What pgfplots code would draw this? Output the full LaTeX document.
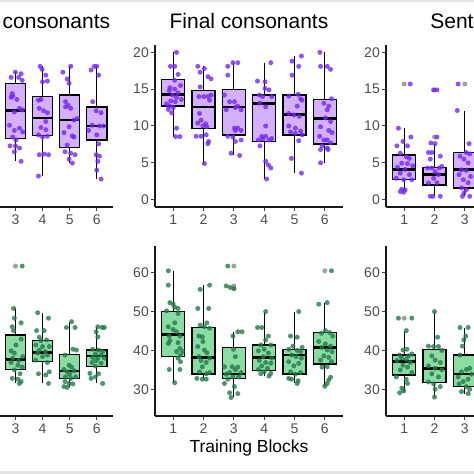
\documentclass[border=0pt]{standalone}
\usepackage{pgfplots}
\pgfplotsset{compat=1.18}
\usepgfplotslibrary{statistics}
\usepackage{fontspec}
\setmainfont{Liberation Sans}

\definecolor{ptpurple}{RGB}{116,40,240}
\definecolor{boxpurple}{RGB}{212,176,250}
\definecolor{ptgreen}{RGB}{36,120,76}
\definecolor{boxgreen}{RGB}{138,220,163}
\definecolor{ticktext}{RGB}{77,77,77}
\definecolor{outgray}{RGB}{150,150,150}
\definecolor{stripgray}{RGB}{228,228,228}

\pgfplotsset{
  panelbase/.style={
    scale only axis, axis lines=left,
    axis line style={-, line width=1.5pt, black!90},
    xmin=0.4, xmax=6.6, xtick={1,2,3,4,5,6},
    tick align=outside, major tick length=4pt,
    tick style={line width=1pt, black!75},
    tick label style={font=\fontsize{14}{14}\selectfont, text=ticktext},
    /pgf/number format/assume math mode=true,
    xticklabel style={inner sep=1pt, yshift=-3pt},
    yticklabel style={inner sep=1pt, xshift=-1pt},
    title style={at={(0.5,1)}, anchor=base, yshift=10.5pt,
      font=\fontsize{21}{21}\selectfont},
    boxplot/draw direction=y,
  },
  toprow/.style={panelbase, height=162pt, ymin=-1, ymax=21, ytick={0,5,10,15,20}},
  botrow/.style={panelbase, height=170pt, ymin=23.13, ymax=66.87, ytick={30,40,50,60}},
  pbox/.style={draw=black, fill=boxpurple, line width=1.3pt, solid},
  gbox/.style={draw=black, fill=boxgreen, line width=1.3pt, solid},
  ppts/.style={only marks, mark=*, mark size=2.5pt,
    mark options={draw=ptpurple, fill=ptpurple, line width=0.2pt,
      fill opacity=0.8, draw opacity=0}},
  gpts/.style={only marks, mark=*, mark size=2.5pt,
    mark options={draw=ptgreen, fill=ptgreen, line width=0.2pt,
      fill opacity=0.8, draw opacity=0}},
  outl/.style={only marks, mark=*, mark size=2.5pt,
    mark options={draw=outgray, fill=outgray, line width=0.2pt,
      fill opacity=0.9, draw opacity=0}},
}

% box: style, position, lower whisker, Q1, median, Q3, upper whisker
\newcommand{\bx}[7]{%
  \addplot[#1, boxplot prepared={draw direction=y, draw position=#2,
    lower whisker=#3, lower quartile=#4, median=#5, upper quartile=#6,
    upper whisker=#7, box extend=0.75, whisker extend=0,
    every median/.style={line width=2.7pt}}] coordinates {};}

\begin{document}
\begin{tikzpicture}
\useasboundingbox (0pt,0pt) rectangle (474pt,474pt);
\clip (0pt,0pt) rectangle (474pt,474pt);
\fill[white] (0pt,0pt) rectangle (474pt,474pt);

% ---------------- Initial consonants ----------------
\begin{axis}[toprow, width=168pt, at={(-55pt,267pt)}, anchor=south west,
  title={Initial consonants}]
\bx{pbox}{3}{5.2}{8.33}{12.07}{15.77}{17.3}
\bx{pbox}{4}{3.2}{8.7}{11.1}{14.05}{18.1}
\bx{pbox}{5}{4.95}{7.07}{10.8}{14.2}{18.1}
\bx{pbox}{6}{2.8}{8.1}{10.0}{12.6}{18.1}
\addplot[ppts] coordinates {
 (3.00,17.3) (3.21,17.1) (2.84,16.6) (3.12,16.6) (3.25,16.2) (2.88,14.4)
 (2.90,14.05) (3.05,13.6) (2.84,13.9) (3.15,12.4) (3.25,12.2) (2.96,11.9)
 (2.78,10.1) (3.15,9.7) (2.96,9.4) (3.27,9.2) (2.90,8.5) (3.02,8.1)
 (2.80,7.3) (3.00,7.3) (3.15,7.0) (2.96,6.5) (3.21,5.2)
 (3.91,18.1) (3.98,17.7) (4.12,16.9) (4.18,16.1) (4.00,16.0) (3.85,13.5)
 (3.94,13.6) (3.88,12.4) (4.04,12.07) (4.18,11.8) (4.12,10.6) (3.94,9.8)
 (4.12,9.5) (3.85,8.8) (4.00,8.5) (4.18,8.6) (3.88,6.1) (4.06,6.2)
 (4.22,6.1) (3.85,3.2)
 (4.75,17.3) (5.04,18.1) (4.91,16.4) (4.98,15.8) (4.85,13.3) (4.95,12.8)
 (4.85,12.6) (5.04,12.4) (5.28,11.0) (5.16,10.8) (4.98,9.9) (4.79,9.1)
 (5.10,8.65) (5.16,8.5) (4.91,7.4) (4.83,6.5) (5.04,6.3) (5.20,6.1)
 (4.98,5.5) (5.10,4.95)
 (5.79,17.6) (5.91,18.1) (6.00,18.1) (6.07,16.9) (5.85,13.3) (5.98,12.07)
 (6.16,11.8) (5.83,10.1) (6.10,10.0) (6.25,10.0) (6.00,8.8) (5.70,9.4)
 (6.07,7.57) (5.98,6.1) (6.10,5.9) (6.04,5.2) (6.00,4.0) (6.16,2.8)
};
\end{axis}

% ---------------- Final consonants ----------------
\begin{axis}[toprow, width=188pt, at={(155pt,267pt)}, anchor=south west,
  title={Final consonants}]
\bx{pbox}{1}{8.56}{12.7}{14.23}{16.3}{20.0}
\bx{pbox}{2}{4.9}{9.68}{12.6}{14.86}{18.1}
\bx{pbox}{3}{6.0}{8.78}{12.6}{14.95}{18.6}
\bx{pbox}{4}{2.8}{7.9}{13.1}{14.2}{18.6}
\bx{pbox}{5}{3.6}{8.78}{11.6}{14.2}{19.5}
\bx{pbox}{6}{5.0}{7.57}{11.04}{13.6}{20.0}
\addplot[ppts] coordinates {
 (1.11,20.0) (0.91,18.1) (1.05,18.1) (1.16,17.0) (1.05,16.2) (1.24,15.5)
 (0.89,15.2) (1.05,15.0) (0.87,14.8) (1.16,14.5) (0.98,14.2) (1.11,13.9)
 (1.27,13.6) (0.92,13.4) (1.07,13.3) (0.78,13.0) (0.87,12.7) (1.00,12.5)
 (0.84,12.25) (0.95,11.8) (1.11,9.7) (1.08,8.56) (1.22,8.56)
 (1.81,18.1) (2.03,17.8) (1.89,17.3) (2.15,16.7) (2.25,16.4) (1.89,15.3)
 (1.85,14.0) (2.01,14.0) (2.15,14.0) (2.25,14.2) (2.20,13.5) (1.87,11.7)
 (1.92,10.8) (1.81,10.4) (2.07,10.3) (1.98,10.0) (2.11,9.9) (1.76,8.6)
 (1.92,8.6) (2.09,8.8) (2.17,7.9) (2.14,7.6) (2.03,4.9)
 (2.80,18.1) (2.97,18.6) (3.13,18.6) (2.80,16.9) (2.69,14.2) (2.86,13.3)
 (3.02,13.3) (3.13,12.7) (3.05,12.5) (2.75,12.2) (3.24,12.2) (3.02,9.7)
 (3.13,9.7) (3.05,9.4) (3.24,9.4) (2.80,8.6) (2.97,8.5) (3.05,7.9)
 (3.24,8.1) (2.91,6.3) (3.19,6.0)
 (4.22,18.6) (3.78,16.1) (4.03,16.0) (4.03,15.1) (4.16,14.9) (3.84,14.2)
 (3.95,14.0) (4.25,14.0) (3.86,13.1) (4.05,12.6) (4.05,10.0) (3.92,8.6)
 (4.05,8.6) (4.25,8.3) (3.81,8.1) (4.16,8.1) (3.95,8.2) (3.86,7.3)
 (4.05,5.2) (4.14,4.7) (4.22,4.3) (4.08,2.8)
 (4.92,18.8) (5.23,19.5) (5.14,18.1) (4.92,16.9) (4.81,14.05) (5.12,14.3)
 (5.20,13.7) (5.25,13.5) (5.09,12.7) (4.81,11.7) (4.98,11.5) (5.16,11.3)
 (4.81,10.0) (5.03,9.7) (5.20,9.3) (4.87,9.2) (5.03,9.0) (5.25,8.8)
 (5.14,8.0) (4.90,5.6) (5.23,3.6)
 (5.84,20.0) (5.86,18.1) (6.08,18.1) (6.19,17.7) (6.22,13.7) (5.97,13.1)
 (6.13,12.7) (6.08,12.2) (6.02,11.1) (6.19,10.6) (5.86,9.9) (6.13,9.4)
 (6.24,9.1) (5.83,8.6) (5.97,8.1) (6.08,8.1) (6.19,7.7) (5.91,7.3)
 (6.08,7.0) (5.86,6.8) (6.11,6.8) (5.86,5.0)
};
\end{axis}

% ---------------- Sentences ----------------
\begin{axis}[toprow, width=188pt, at={(386pt,267pt)}, anchor=south west,
  title={Sentences}]
\bx{pbox}{1}{1.0}{2.7}{4.05}{6.08}{9.7}
\bx{pbox}{2}{0.45}{2.0}{3.4}{4.4}{7.6}
\bx{pbox}{3}{0.45}{1.58}{4.05}{6.4}{12.1}
\addplot[outl] coordinates {(1,15.7) (2,14.9) (2,8.5) (3,15.7)};
\addplot[ppts] coordinates {
 (1.20,15.7) (0.81,9.7) (1.22,8.5) (0.96,7.9) (0.76,7.3) (1.11,7.3)
 (0.87,6.3) (1.07,5.8) (1.17,5.6) (0.92,4.95) (1.11,4.9) (0.78,4.4)
 (1.28,4.6) (1.03,4.1) (0.87,3.6) (1.17,3.4) (0.74,2.9) (0.98,2.7)
 (1.25,2.7) (0.92,1.4) (1.03,1.3) (0.87,1.1) (0.98,1.0)
 (1.97,14.9) (2.08,14.9) (2.08,8.5) (1.88,7.7) (2.02,7.6) (1.80,6.4)
 (1.91,6.4) (2.19,5.9) (1.86,5.5) (2.24,4.5) (1.77,4.3) (1.91,4.3)
 (2.16,4.3) (2.02,3.8) (2.13,3.4) (1.97,2.9) (1.80,2.25) (2.08,2.3)
 (1.86,0.45) (1.95,0.45) (2.19,0.45)
 (2.78,15.7) (2.75,12.1) (3.14,7.6) (3.05,6.4) (3.16,6.2) (2.84,5.9)
 (2.97,5.5) (3.11,5.0) (2.89,4.05) (3.05,3.96) (2.81,3.4) (3.19,3.15)
 (2.95,2.7) (3.11,2.3) (2.89,1.6) (3.05,1.35) (2.97,0.9) (2.92,0.45)
 (3.16,0.45)
};
\end{axis}

% ---------------- second row, left ----------------
\begin{axis}[botrow, width=168pt, at={(-55pt,58pt)}, anchor=south west]
\bx{gbox}{3}{31.5}{35.1}{37.7}{44.0}{50.8}
\bx{gbox}{4}{31.5}{37.1}{39.4}{42.5}{49.7}
\bx{gbox}{5}{30.5}{32.8}{34.7}{39.0}{47.4}
\bx{gbox}{6}{31.5}{35.8}{38.6}{40.1}{46.1}
\addplot[outl] coordinates {(3,61.7)};
\addplot[gpts] coordinates {
 (3.25,61.7) (2.93,50.8) (2.96,48.3) (3.21,47.1) (2.88,46.1) (2.93,45.1)
 (3.21,42.9) (3.02,41.4) (2.84,39.9) (2.96,39.3) (2.90,38.0) (3.12,37.4)
 (3.27,38.4) (2.84,36.9) (3.09,36.2) (3.25,35.7) (2.96,35.0) (3.17,34.0)
 (2.88,32.8) (3.09,32.6) (3.21,32.0) (3.15,31.5)
 (3.82,49.7) (4.22,48.3) (3.78,45.1) (4.06,45.1) (3.88,43.4) (3.94,42.5)
 (4.15,42.7) (3.75,41.4) (4.00,41.0) (4.25,41.0) (3.88,40.1) (4.10,39.7)
 (3.82,39.3) (4.18,38.8) (4.00,38.4) (3.75,37.5) (4.18,36.9) (3.85,34.0)
 (4.12,33.7) (4.25,34.5) (4.22,31.5)
 (5.07,47.4) (4.88,45.9) (5.20,45.9) (5.12,40.3) (5.25,40.1) (4.83,38.8)
 (4.98,36.2) (5.07,35.7) (4.79,35.1) (4.91,34.5) (5.16,34.8) (5.00,33.9)
 (4.85,33.2) (5.04,32.8) (5.22,33.2) (4.83,32.0) (4.98,31.5) (5.12,31.4)
 (4.91,30.5) (4.79,30.7)
 (6.04,46.1) (6.20,45.9) (6.28,45.9) (5.98,44.8) (6.04,43.5) (5.85,40.3)
 (6.07,40.1) (6.22,39.7) (5.95,39.1) (6.16,38.8) (5.85,38.2) (6.04,38.0)
 (6.28,38.0) (5.98,37.4) (5.83,36.9) (6.16,36.7) (5.95,36.0) (5.75,34.1)
 (6.07,34.0) (5.95,33.2) (5.79,32.8) (6.22,31.5)
};
\end{axis}

% ---------------- second row, middle ----------------
\begin{axis}[botrow, width=188pt, at={(155pt,58pt)}, anchor=south west,
  xlabel={Training Blocks},
  xlabel style={at={(axis description cs:0.5,0)}, anchor=base,
    yshift=-36.7pt, font=\fontsize{17.5}{17.5}\selectfont}]
\bx{gbox}{1}{31.7}{38.4}{44.1}{50.0}{60.5}
\bx{gbox}{2}{32.6}{33.9}{38.2}{45.9}{56.8}
\bx{gbox}{3}{27.9}{32.8}{33.9}{40.8}{44.8}
\bx{gbox}{4}{33.4}{34.8}{38.2}{41.4}{50.0}
\bx{gbox}{5}{31.5}{33.9}{38.8}{40.3}{50.0}
\bx{gbox}{6}{30.8}{36.5}{40.7}{44.6}{52.3}
\addplot[outl] coordinates {(3,61.7) (3,56.6) (3,56.0) (6,60.5)};
\addplot[gpts] coordinates {
 (0.84,60.5) (0.84,56.8) (0.89,52.3) (1.00,51.9) (1.05,51.1) (1.16,50.8)
 (0.78,50.2) (1.16,49.5) (1.05,47.1) (0.84,46.1) (1.00,45.4) (1.11,44.8)
 (0.87,43.7) (1.22,43.7) (0.89,42.5) (1.16,42.0) (0.84,41.8) (1.22,40.5)
 (1.11,39.7) (1.31,39.7) (1.24,38.8) (1.16,38.0) (1.24,37.1) (0.87,35.1)
 (1.22,35.1) (1.05,31.7)
 (1.89,55.7) (2.20,56.8) (1.81,50.8) (2.17,50.8) (2.11,47.1) (1.89,46.5)
 (2.03,46.1) (2.20,45.7) (1.85,43.7) (1.96,43.5) (1.98,42.3) (1.81,41.0)
 (2.03,40.1) (2.11,39.4) (1.85,38.4) (2.20,38.0) (1.92,37.4) (2.09,36.9)
 (1.96,35.8) (1.87,34.5) (2.09,34.0) (2.20,34.3) (1.78,32.8) (1.96,32.6)
 (2.09,32.6)
 (2.80,61.7) (2.75,56.6) (2.88,56.2) (3.00,55.9) (3.13,44.8) (3.27,44.8)
 (2.97,43.7) (2.99,40.3) (3.05,38.4) (2.69,35.8) (2.95,35.8) (3.13,35.7)
 (3.05,35.0) (2.86,34.3) (3.24,34.3) (2.75,33.9) (2.97,33.2) (3.16,33.2)
 (2.80,32.6) (2.69,31.5) (3.02,30.7) (2.86,29.1) (3.13,28.9) (2.91,27.9)
 (4.05,50.0) (3.78,45.9) (3.92,45.9) (4.14,43.7) (4.05,42.7) (4.22,41.4)
 (3.89,41.4) (4.00,40.3) (3.81,39.9) (4.14,39.3) (3.97,38.4) (4.25,38.0)
 (3.84,37.4) (4.05,36.9) (4.22,36.7) (3.92,36.0) (4.11,35.4) (3.81,35.1)
 (4.00,34.5) (4.22,34.1) (3.89,34.0) (4.16,33.4)
 (5.14,50.0) (4.87,43.7) (5.09,43.4) (4.95,41.1) (5.25,40.8) (4.81,40.3)
 (5.09,40.0) (5.20,39.7) (4.90,38.8) (5.05,38.4) (5.23,38.0) (4.81,37.1)
 (5.14,36.7) (4.98,36.0) (4.87,34.5) (5.20,34.3) (5.03,33.9) (4.81,32.8)
 (4.90,32.6) (5.12,32.2) (5.09,31.5)
 (6.22,60.5) (6.08,52.3) (5.80,51.9) (6.02,45.1) (6.16,44.6) (5.89,44.4)
 (6.26,43.7) (5.80,42.3) (6.02,41.7) (6.19,41.1) (5.91,40.8) (6.08,40.1)
 (6.24,39.7) (5.97,38.6) (6.13,38.2) (5.86,37.5) (6.22,37.1) (5.91,35.7)
 (6.08,35.8) (6.19,33.1) (6.13,32.4) (6.08,31.5) (6.00,30.8)
};
\end{axis}

% ---------------- second row, right ----------------
\begin{axis}[botrow, width=188pt, at={(386pt,58pt)}, anchor=south west]
\bx{gbox}{1}{29.1}{33.7}{37.1}{38.8}{45.1}
\bx{gbox}{2}{28.0}{31.7}{35.4}{40.3}{50.0}
\bx{gbox}{3}{28.9}{30.7}{33.9}{38.8}{45.9}
\addplot[outl] coordinates {(1,48.3)};
\addplot[gpts] coordinates {
 (0.81,48.3) (1.25,48.3) (1.07,45.1) (0.96,40.1) (1.09,40.3) (1.25,39.1)
 (0.85,38.8) (1.14,38.6) (0.92,38.0) (1.07,37.7) (0.76,37.4) (1.20,36.9)
 (0.96,36.2) (1.11,35.7) (0.87,35.0) (1.25,34.3) (0.74,33.2) (1.07,32.6)
 (1.11,31.5) (0.92,30.3) (0.85,29.1) (0.98,29.6)
 (2.00,50.0) (2.10,43.4) (1.80,41.1) (1.97,41.0) (2.13,41.0) (2.24,40.0)
 (1.91,38.6) (2.02,37.5) (2.19,36.9) (1.80,36.0) (2.02,35.4) (2.24,35.0)
 (1.91,34.0) (2.13,33.2) (1.80,31.9) (1.97,31.4) (2.19,30.7) (2.02,30.0)
 (2.00,28.0)
 (2.84,45.9) (3.11,45.9) (3.03,43.7) (2.97,42.7) (2.92,41.1) (2.84,38.8)
 (3.16,35.4) (3.05,35.1) (2.89,34.5) (3.22,33.9) (2.78,33.2) (3.11,32.6)
 (2.95,32.0) (2.81,31.4) (3.05,30.7) (3.16,30.0) (2.89,29.4) (3.11,28.9)
};
\end{axis}

% light bands along the top and bottom edges
\fill[stripgray] (0pt,472pt) rectangle (474pt,474pt);
\fill[stripgray] (0pt,0pt) rectangle (474pt,3pt);
\end{tikzpicture}
\end{document}
